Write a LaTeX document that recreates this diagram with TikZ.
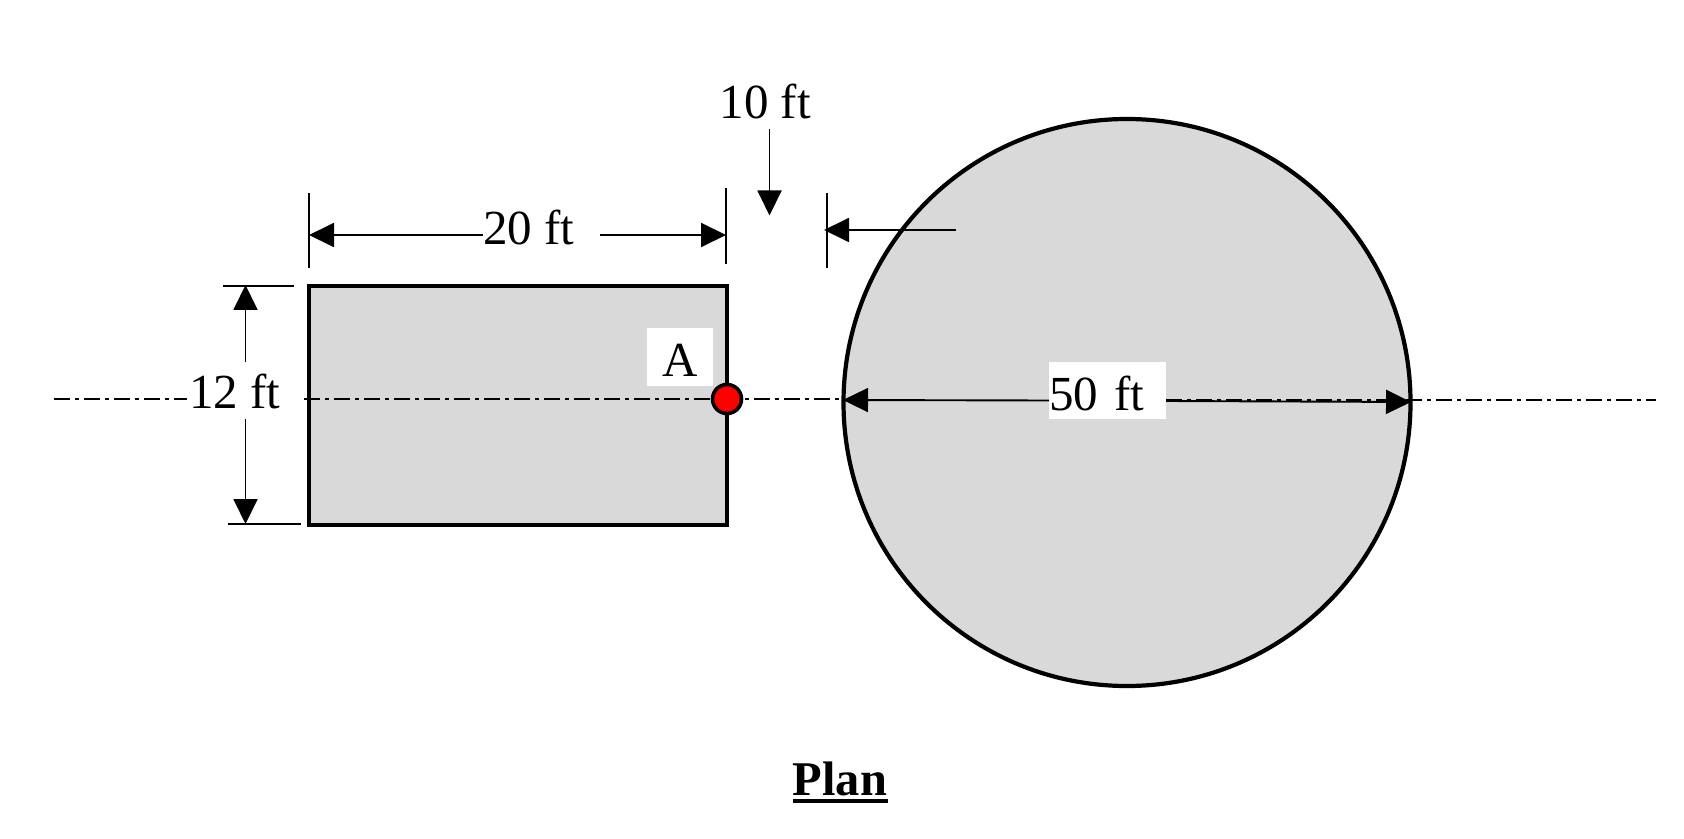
\documentclass[tikz,border=0pt]{standalone}
\usepackage{fontspec}
\setmainfont{Liberation Serif}
\usetikzlibrary{arrows.meta}
\tikzset{
  x=0.5pt,y=-0.5pt,
  solidshape/.style={draw=black,fill=shapegray,line width=2.1pt,inner sep=0pt,outer sep=0pt},
  thinline/.style={draw=black,line width=0.95pt},
  dimline/.style={thinline,-{Triangle[length=12.5pt,width=12pt]},shorten >=0pt},
  axisline/.style={draw=black,line width=1pt,dash pattern=on 8pt off 2.5pt on 2pt off 2.5pt},
  lbl/.style={font=\fontsize{24.5}{28}\selectfont,inner sep=0pt,outer sep=0pt,anchor=base west},
  whitebox/.style={fill=white,inner sep=0pt,outer sep=0pt,font=\fontsize{24.5}{28}\selectfont}
}
\definecolor{shapegray}{HTML}{D9D9D9}
\begin{document}
\begin{tikzpicture}
\useasboundingbox (0,0) rectangle (1684,839);
% shapes
\node[solidshape,minimum width=209pt,minimum height=119.5pt] (rect) at (518,405.5) {};
\node[solidshape,circle,minimum size=283.5pt] (circ) at (1127,402.5) {};
% axis coordinates
\coordinate (axL) at (54,399);
\coordinate (axLe) at (187,399);
\coordinate (axM) at (304,399);
\coordinate (axMe) at (843,399);
\coordinate (axR) at (1166,400);
\coordinate (axRe) at (1411,400);
\coordinate (axE) at (1656,400);
\draw[axisline] (axL) -- (axLe);
\draw[axisline] (axM) -- (axMe);
\draw[axisline] (axR) -- (axE);
% 20 ft
\coordinate (a1) at (309,193); \coordinate (a2) at (309,268);
\coordinate (b1) at (726,188); \coordinate (b2) at (726,264);
\draw[thinline] (a1) -- (a2);
\draw[thinline] (b1) -- (b2);
\node[lbl] (l20) at (483,245) {20 ft};
\coordinate (t20a) at (483,235); \coordinate (t20b) at (600,235);
\coordinate (h20a) at (309,235); \coordinate (h20b) at (726,235);
\draw[dimline] (t20a) -- (h20a);
\draw[dimline] (t20b) -- (h20b);
% 10 ft
\node[lbl] (l10) at (719.5,119) {10 ft};
\coordinate (c1) at (827,193); \coordinate (c2) at (827,268);
\draw[thinline] (c1) -- (c2);
\coordinate (t10a) at (769.5,129); \coordinate (h10a) at (769.5,215.5);
\draw[dimline] (t10a) -- (h10a);
\coordinate (t10b) at (956,230); \coordinate (h10b) at (824,230);
\draw[dimline] (t10b) -- (h10b);
% 12 ft
\coordinate (d1) at (223,286); \coordinate (d2) at (294,286);
\coordinate (e1) at (228,524); \coordinate (e2) at (301,524);
\draw[thinline] (d1) -- (d2);
\draw[thinline] (e1) -- (e2);
\node[lbl] (l12) at (189,408) {12 ft};
\coordinate (t12a) at (245.5,362); \coordinate (h12a) at (245.5,285);
\coordinate (t12b) at (245.5,419); \coordinate (h12b) at (245.5,524);
\draw[dimline] (t12a) -- (h12a);
\draw[dimline] (t12b) -- (h12b);
% 50 ft
\node[whitebox,minimum height=0pt,text width=58.5pt,align=left,text height=24pt,text depth=4.5pt] (l50) at (1107.5,390.5) {50 ft};
\coordinate (h50a) at (843,400); \coordinate (t50a) at (1049,400.5);
\coordinate (t50b) at (1166,401); \coordinate (h50b) at (1411,402);
\draw[dimline] (t50a) -- (h50a);
\draw[dimline] (t50b) -- (h50b);
% point A
\node[whitebox,text width=33pt,align=center,text height=24pt,text depth=5pt] (lA) at (680,357) {A};
\node[circle,draw=black,fill=red,line width=1.8pt,minimum size=14.5pt,inner sep=0pt] (ptA) at (727,399) {};
% title
\node[inner sep=0pt,outer sep=0pt,anchor=base,font=\fontsize{24.2}{28}\selectfont\bfseries] (plan) at (840,795) {Plan};
\coordinate (u1) at (793,801); \coordinate (u2) at (888,801);
\draw[draw=black,line width=1.9pt] (u1) -- (u2);
\end{tikzpicture}
\end{document}
